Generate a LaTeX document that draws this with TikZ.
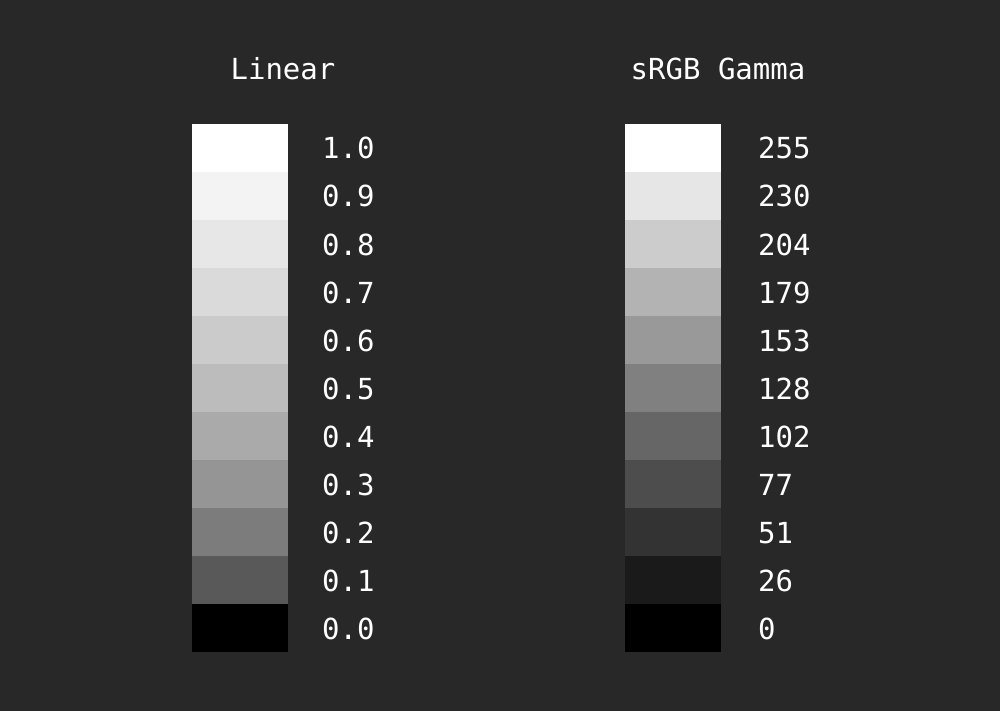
\documentclass[tikz,border=0pt]{standalone}
\usepackage{fontspec}
\setmonofont{DejaVu Sans Mono}
\begin{document}
\begin{tikzpicture}[x=1pt,y=-1pt,
  lbl/.style={anchor=base west,inner sep=0pt,text=white,font=\ttfamily\fontsize{29}{29}\selectfont},
  ttl/.style={anchor=base,inner sep=0pt,text=white,font=\ttfamily\fontsize{29}{29}\selectfont},
  swatch/.style={draw=none,inner sep=0pt}]
\definecolor{bg}{RGB}{40,40,40}
\fill[bg] (0,0) rectangle (1000,711);
\useasboundingbox (0,0) rectangle (1000,711);
\node[ttl] (tl) at (283,80) {Linear};
\node[ttl] (tr) at (718,80) {sRGB Gamma};
% linear column (sRGB-encoded)
\foreach \i/\v/\t in {0/255/1.0,1/243/0.9,2/231/0.8,3/218/0.7,4/203/0.6,5/188/0.5,6/170/0.4,7/149/0.3,8/124/0.2,9/89/0.1,10/0/0.0}{
  \definecolor{c}{RGB}{\v,\v,\v}
  \fill[c] (192,124+48*\i) rectangle (288,124+48*\i+48);
  \node[lbl] (l\i) at (322,159+48*\i) {\t};
}
\foreach \i/\v in {0/255,1/230,2/204,3/179,4/153,5/128,6/102,7/77,8/51,9/26,10/0}{
  \definecolor{c}{RGB}{\v,\v,\v}
  \fill[c] (625,124+48*\i) rectangle (721,124+48*\i+48);
  \node[lbl] (r\i) at (758,159+48*\i) {\v};
}
\end{tikzpicture}
\end{document}
